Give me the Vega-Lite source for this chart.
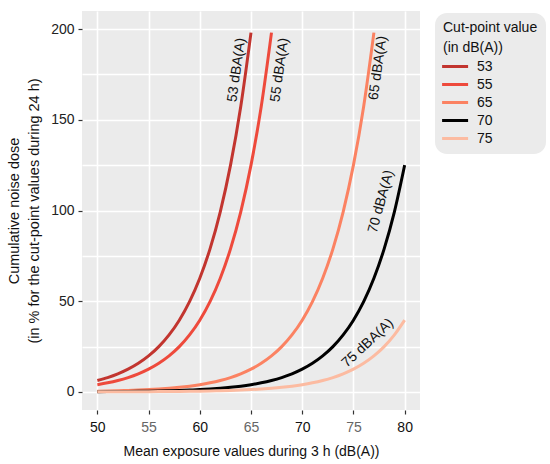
{
  "$schema": "https://vega.github.io/schema/vega-lite/v6.json",
  "description": "Cumulative noise dose by mean exposure during 3 h, per cut-point value",
  "width": 338,
  "height": 399,
  "autosize": "none",
  "padding": {"left": 82, "top": 11, "right": 130, "bottom": 54},
  "background": "white",
  "config": {
    "font": "Liberation Sans",
    "view": {"fill": "#ebebeb", "stroke": null},
    "axis": {
      "domain": false,
      "grid": true,
      "gridColor": "white",
      "gridWidth": 1.6,
      "tickColor": "#333333",
      "tickSize": 4,
      "tickWidth": 1.2,
      "labelFontSize": 14,
      "labelColor": "#222222",
      "titleFontSize": 14,
      "titleFontWeight": "normal",
      "titleColor": "#111111"
    }
  },
  "datasets": {
    "doses": [
      {"L": 50, "53": 6.265, "55": 3.953, "65": 0.395, "70": 0.125, "75": 0.0395},
      {"L": 51, "53": 7.887, "55": 4.976, "65": 0.498, "70": 0.157, "75": 0.0498},
      {"L": 52, "53": 9.929, "55": 6.265, "65": 0.626, "70": 0.198, "75": 0.0626},
      {"L": 53, "53": 12.5, "55": 7.887, "65": 0.789, "70": 0.249, "75": 0.0789},
      {"L": 54, "53": 15.74, "55": 9.929, "65": 0.993, "70": 0.314, "75": 0.0993},
      {"L": 55, "53": 19.81, "55": 12.5, "65": 1.25, "70": 0.395, "75": 0.125},
      {"L": 56, "53": 24.94, "55": 15.74, "65": 1.574, "70": 0.498, "75": 0.157},
      {"L": 57, "53": 31.4, "55": 19.81, "65": 1.981, "70": 0.626, "75": 0.198},
      {"L": 58, "53": 39.53, "55": 24.94, "65": 2.494, "70": 0.789, "75": 0.249},
      {"L": 59, "53": 49.76, "55": 31.4, "65": 3.14, "70": 0.993, "75": 0.314},
      {"L": 60, "53": 62.65, "55": 39.53, "65": 3.953, "70": 1.25, "75": 0.395},
      {"L": 61, "53": 78.87, "55": 49.76, "65": 4.976, "70": 1.574, "75": 0.498},
      {"L": 62, "53": 99.29, "55": 62.65, "65": 6.265, "70": 1.981, "75": 0.626},
      {"L": 63, "53": 125, "55": 78.87, "65": 7.887, "70": 2.494, "75": 0.789},
      {"L": 64, "53": 157.4, "55": 99.29, "65": 9.929, "70": 3.14, "75": 0.993},
      {"L": 65, "53": 198.1, "55": 125, "65": 12.5, "70": 3.953, "75": 1.25},
      {"L": 66, "55": 157.4, "65": 15.74, "70": 4.976, "75": 1.574},
      {"L": 67, "55": 198.1, "65": 19.81, "70": 6.265, "75": 1.981},
      {"L": 68, "65": 24.94, "70": 7.887, "75": 2.494},
      {"L": 69, "65": 31.4, "70": 9.929, "75": 3.14},
      {"L": 70, "65": 39.53, "70": 12.5, "75": 3.953},
      {"L": 71, "65": 49.76, "70": 15.74, "75": 4.976},
      {"L": 72, "65": 62.65, "70": 19.81, "75": 6.265},
      {"L": 73, "65": 78.87, "70": 24.94, "75": 7.887},
      {"L": 74, "65": 99.29, "70": 31.4, "75": 9.929},
      {"L": 75, "65": 125, "70": 39.53, "75": 12.5},
      {"L": 76, "65": 157.4, "70": 49.76, "75": 15.74},
      {"L": 77, "65": 198.1, "70": 62.65, "75": 19.81},
      {"L": 78, "70": 78.87, "75": 24.94},
      {"L": 79, "70": 99.29, "75": 31.4},
      {"L": 80, "70": 125, "75": 39.53}
    ],
    "labels": [
      {"cut": "53", "L": 63.6, "dose": 177.5, "text": "53 dBA(A)"},
      {"cut": "55", "L": 67.8, "dose": 177.5, "text": "55 dBA(A)"},
      {"cut": "65", "L": 77.4, "dose": 178.6, "text": "65 dBA(A)"},
      {"cut": "70", "L": 77.7, "dose": 104.9, "text": "70 dBA(A)"},
      {"cut": "75", "L": 76.4, "dose": 26.9, "text": "75 dBA(A)"}
    ]
  },
  "layer": [
    {
      "data": {"name": "doses"},
      "transform": [
        {"fold": ["53", "55", "65", "70", "75"], "as": ["cut", "dose"]},
        {"filter": "isValid(datum.dose)"}
      ],
      "mark": {"type": "line", "strokeWidth": 3, "interpolate": "monotone"},
      "encoding": {
        "x": {
          "field": "L",
          "type": "quantitative",
          "scale": {"domain": [48.5, 81.5], "nice": false, "zero": false},
          "axis": {
            "values": [50, 55, 60, 65, 70, 75, 80],
            "labelPadding": 6,
            "labelColor": {"condition": {"test": "datum.value % 10 === 5", "value": "#666666"}, "value": "#111111"},
            "title": "Mean exposure values during 3 h (dB(A))",
            "titlePadding": 10
          }
        },
        "y": {
          "field": "dose",
          "type": "quantitative",
          "scale": {"domain": [-10, 210], "nice": false, "zero": false},
          "axis": {
            "values": [0, 25, 50, 75, 100, 125, 150, 175, 200],
            "labelExpr": "datum.value % 50 === 0 ? datum.label : ''",
            "tickOpacity": {"condition": {"test": "datum.value % 50 !== 0", "value": 0}, "value": 1},
            "labelPadding": 4,
            "title": ["Cumulative noise dose", "(in % for the cut-point values during 24 h)"],
            "titleFontSize": 14.5,
            "titleLineHeight": 20,
            "titlePadding": 9
          }
        },
        "color": {
          "field": "cut",
          "type": "nominal",
          "scale": {
            "domain": ["53", "55", "65", "70", "75"],
            "range": ["#c2352f", "#ee4a3c", "#fb8262", "#000000", "#fcbba1"]
          },
          "legend": {
            "title": ["Cut-point value", "(in dB(A))"],
            "orient": "none",
            "legendX": 353,
            "legendY": 2,
            "padding": 8,
            "cornerRadius": 12,
            "fillColor": "#ebebeb",
            "titleFontSize": 14,
            "titleFontWeight": "normal",
            "titleColor": "#111111",
            "titleLineHeight": 20,
            "titlePadding": 2,
            "labelFontSize": 14,
            "labelColor": "#111111",
            "labelOffset": 15,
            "symbolType": "M-1.3,0H1.95",
            "symbolSize": 256,
            "symbolStrokeWidth": 3,
            "rowPadding": 1
          }
        }
      }
    },
    {
      "data": {"name": "labels"},
      "transform": [{"filter": "datum.cut === '53'"}],
      "mark": {"type": "text", "angle": 278, "fontSize": 14, "color": "#111111"},
      "encoding": {
        "x": {"field": "L", "type": "quantitative"},
        "y": {"field": "dose", "type": "quantitative"},
        "text": {"field": "text"}
      }
    },
    {
      "data": {"name": "labels"},
      "transform": [{"filter": "datum.cut === '55'"}],
      "mark": {"type": "text", "angle": 278, "fontSize": 14, "color": "#111111"},
      "encoding": {
        "x": {"field": "L", "type": "quantitative"},
        "y": {"field": "dose", "type": "quantitative"},
        "text": {"field": "text"}
      }
    },
    {
      "data": {"name": "labels"},
      "transform": [{"filter": "datum.cut === '65'"}],
      "mark": {"type": "text", "angle": 278, "fontSize": 14, "color": "#111111"},
      "encoding": {
        "x": {"field": "L", "type": "quantitative"},
        "y": {"field": "dose", "type": "quantitative"},
        "text": {"field": "text"}
      }
    },
    {
      "data": {"name": "labels"},
      "transform": [{"filter": "datum.cut === '70'"}],
      "mark": {"type": "text", "angle": 285, "fontSize": 14, "color": "#111111"},
      "encoding": {
        "x": {"field": "L", "type": "quantitative"},
        "y": {"field": "dose", "type": "quantitative"},
        "text": {"field": "text"}
      }
    },
    {
      "data": {"name": "labels"},
      "transform": [{"filter": "datum.cut === '75'"}],
      "mark": {"type": "text", "angle": 317, "fontSize": 14, "color": "#111111"},
      "encoding": {
        "x": {"field": "L", "type": "quantitative"},
        "y": {"field": "dose", "type": "quantitative"},
        "text": {"field": "text"}
      }
    }
  ]
}
